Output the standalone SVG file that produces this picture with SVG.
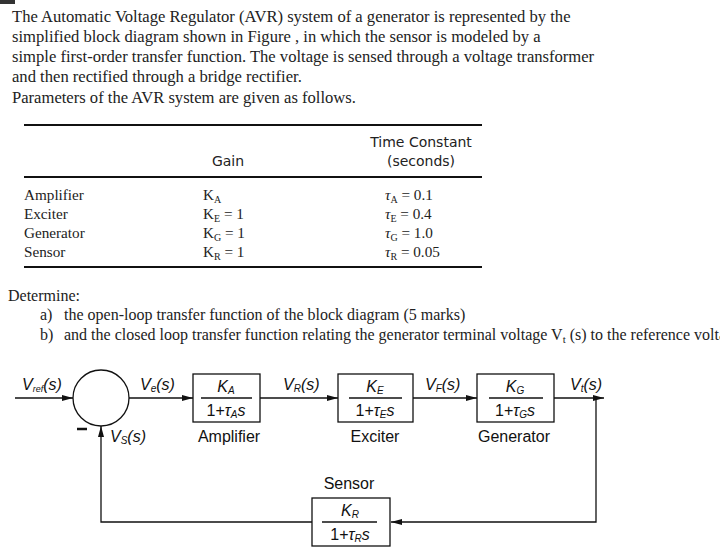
<svg xmlns="http://www.w3.org/2000/svg" width="720" height="547" viewBox="0 0 720 547">
<style>
.t{font-family:"Liberation Serif",serif;font-size:16.6px;fill:#222}
.d{font-family:"Liberation Serif",serif;font-size:16px;fill:#222}
.r{font-family:"Liberation Serif",serif;font-size:15.2px;fill:#222}
.h{font-family:"DejaVu Sans",sans-serif;font-size:14px;fill:#222}
.s{font-family:"Liberation Sans",Arial,sans-serif;font-size:16px;fill:#111}
.i{font-style:italic}
.ln{stroke:#111;stroke-width:1.3;fill:none}
.bx{stroke:#111;stroke-width:1.3;fill:#fff}
</style>
<defs><marker id="a" markerWidth="12" markerHeight="8" refX="11" refY="4" orient="auto" markerUnits="userSpaceOnUse"><path d="M0,1 L11,4 L0,7 Z" fill="#111"/></marker></defs>
<rect x="0" y="0" width="15" height="4" fill="#333"/>
<text class="t" x="12" y="22">The Automatic Voltage Regulator (AVR) system of a generator is represented by the</text>
<text class="t" x="12" y="42">simplified block diagram shown in Figure , in which the sensor is modeled by a</text>
<text class="t" x="12" y="62">simple first-order transfer function. The voltage is sensed through a voltage transformer</text>
<text class="t" x="12" y="82">and then rectified through a bridge rectifier.</text>
<text class="t" x="12" y="103">Parameters of the AVR system are given as follows.</text>
<g id="table">
<line x1="24" y1="125" x2="482" y2="125" stroke="#111" stroke-width="2"/>
<line x1="24" y1="177" x2="482" y2="177" stroke="#111" stroke-width="2"/>
<line x1="24" y1="267" x2="482" y2="267" stroke="#111" stroke-width="2"/>
<text class="h" x="228" y="166" text-anchor="middle">Gain</text>
<text class="h" x="421" y="147" text-anchor="middle">Time Constant</text>
<text class="h" x="421" y="166" text-anchor="middle">(seconds)</text>
<text class="r" x="24" y="200">Amplifier</text>
<text class="r" x="24" y="219">Exciter</text>
<text class="r" x="24" y="238">Generator</text>
<text class="r" x="24" y="257">Sensor</text>
<text class="r" x="203" y="200">K<tspan font-size="10" dy="3">A</tspan></text>
<text class="r" x="203" y="219">K<tspan font-size="10" dy="3">E</tspan><tspan dy="-3"> = 1</tspan></text>
<text class="r" x="203" y="238">K<tspan font-size="10" dy="3">G</tspan><tspan dy="-3"> = 1</tspan></text>
<text class="r" x="203" y="257">K<tspan font-size="10" dy="3">R</tspan><tspan dy="-3"> = 1</tspan></text>
<text class="r" x="385" y="200"><tspan class="i">τ</tspan><tspan font-size="10" dy="3">A</tspan><tspan dy="-3"> = 0.1</tspan></text>
<text class="r" x="385" y="219"><tspan class="i">τ</tspan><tspan font-size="10" dy="3">E</tspan><tspan dy="-3"> = 0.4</tspan></text>
<text class="r" x="385" y="238"><tspan class="i">τ</tspan><tspan font-size="10" dy="3">G</tspan><tspan dy="-3"> = 1.0</tspan></text>
<text class="r" x="385" y="257"><tspan class="i">τ</tspan><tspan font-size="10" dy="3">R</tspan><tspan dy="-3"> = 0.05</tspan></text>
</g>
<text class="d" x="8" y="301">Determine:</text>
<text class="d" x="40" y="320">a)</text><text class="d" x="64" y="320">the open-loop transfer function of the block diagram (5 marks)</text>
<text class="d" x="40" y="340">b)</text><text class="d" x="64" y="340">and the closed loop transfer function relating the generator terminal voltage V<tspan font-size="11" dy="3">t</tspan><tspan dy="-3"> (s) to the reference voltage</tspan></text>
<g id="connectors">
<line class="ln" x1="15" y1="398" x2="73" y2="398" marker-end="url(#a)"/>
<line class="ln" x1="129" y1="398" x2="193" y2="398" marker-end="url(#a)"/>
<line class="ln" x1="260" y1="398" x2="338" y2="398" marker-end="url(#a)"/>
<line class="ln" x1="413" y1="398" x2="477" y2="398" marker-end="url(#a)"/>
<line class="ln" x1="554" y1="398" x2="604" y2="398" marker-end="url(#a)"/>
<polyline class="ln" points="596,398 596,522 391,522" marker-end="url(#a)"/>
<polyline class="ln" points="312,522 101,522 101,426" marker-end="url(#a)"/>
</g>
<g id="sum"><circle class="bx" cx="101" cy="398" r="28"/>
<line x1="77" y1="429" x2="87" y2="429" stroke="#111" stroke-width="2.5"/></g>
<text class="s i" x="22" y="390">V<tspan font-size="9" dy="2">ref</tspan><tspan dy="-2">(s)</tspan></text>
<text class="s i" x="140" y="390">V<tspan font-size="10" dy="2">e</tspan><tspan dy="-2">(s)</tspan></text>
<text class="s i" x="110" y="442">V<tspan font-size="10" dy="2">S</tspan><tspan dy="-2">(s)</tspan></text>
<text class="s i" x="283" y="390">V<tspan font-size="10" dy="2">R</tspan><tspan dy="-2">(s)</tspan></text>
<text class="s i" x="425" y="390">V<tspan font-size="10" dy="2">F</tspan><tspan dy="-2">(s)</tspan></text>
<text class="s i" x="570" y="390">V<tspan font-size="10" dy="2">t</tspan><tspan dy="-2">(s)</tspan></text>
<g id="amp"><rect class="bx" x="193" y="374" width="67" height="48"/><line class="ln" x1="201" y1="398" x2="252" y2="398"/>
<text class="s i" x="226" y="392" text-anchor="middle">K<tspan font-size="10" dy="2">A</tspan></text>
<text class="s" x="226" y="416" text-anchor="middle">1+<tspan class="i">τ<tspan font-size="10" dy="2">A</tspan><tspan dy="-2">s</tspan></tspan></text>
<text class="s" x="229" y="442" text-anchor="middle">Amplifier</text></g>
<g id="exc"><rect class="bx" x="338" y="374" width="75" height="48"/><line class="ln" x1="349" y1="398" x2="402" y2="398"/>
<text class="s i" x="375" y="392" text-anchor="middle">K<tspan font-size="10" dy="2">E</tspan></text>
<text class="s" x="375" y="416" text-anchor="middle">1+<tspan class="i">τ<tspan font-size="10" dy="2">E</tspan><tspan dy="-2">s</tspan></tspan></text>
<text class="s" x="375" y="442" text-anchor="middle">Exciter</text></g>
<g id="gen"><rect class="bx" x="477" y="374" width="77" height="48"/><line class="ln" x1="489" y1="398" x2="543" y2="398"/>
<text class="s i" x="515" y="392" text-anchor="middle">K<tspan font-size="10" dy="2">G</tspan></text>
<text class="s" x="515" y="416" text-anchor="middle">1+<tspan class="i">τ<tspan font-size="10" dy="2">G</tspan><tspan dy="-2">s</tspan></tspan></text>
<text class="s" x="514" y="442" text-anchor="middle">Generator</text></g>
<g id="sen"><rect class="bx" x="312" y="498" width="78" height="48"/><line class="ln" x1="322" y1="522" x2="377" y2="522"/>
<text class="s i" x="350" y="516" text-anchor="middle">K<tspan font-size="10" dy="2">R</tspan></text>
<text class="s" x="350" y="540" text-anchor="middle">1+<tspan class="i">τ<tspan font-size="10" dy="2">R</tspan><tspan dy="-2">s</tspan></tspan></text>
<text class="s" x="349" y="489" text-anchor="middle">Sensor</text></g>
</svg>
